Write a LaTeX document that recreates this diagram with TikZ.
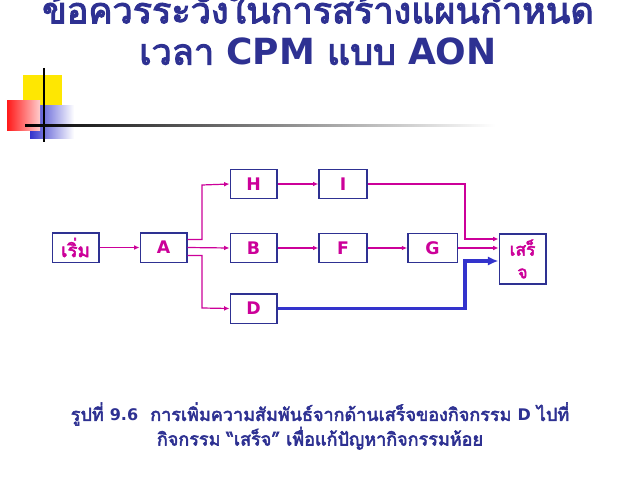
\documentclass[tikz,border=0pt]{standalone}
\usepackage{fontspec}
\setmainfont{Loma}[Script=Thai,AutoFakeBold=3]
\newfontfamily\lat{DejaVu Sans}
\usetikzlibrary{arrows.meta}
\definecolor{navy}{HTML}{2E3192}
\definecolor{mag}{HTML}{CC0099}
\definecolor{blu}{HTML}{3333CC}
\tikzset{
 box/.style={draw=navy,line width=1pt,fill=white,text=mag,font=\bfseries\fontsize{13}{15}\selectfont,inner sep=0pt,minimum height=22pt},
 link/.style={draw=mag,line width=0.9pt,-{Latex[length=4pt,width=3.5pt]}},
 bluelink/.style={draw=blu,line width=2.6pt,-{Latex[length=8pt,width=7pt]}}
}
\begin{document}
\begin{tikzpicture}[x=0.75pt,y=-0.75pt]
\useasboundingbox (0,0) rectangle (638,478);
\fill[white] (0,0) rectangle (638,478);
% decoration
\fill[yellow!90!orange] (23,75) rectangle (62,112);
\shade[left color=blu,right color=white] (30,105) rectangle (74,138);
\shade[left color=red!90,right color=red!20] (7,100) rectangle (40,130);
\draw[line width=1pt] (44,68) -- (44,142);
\shade[left color=black,right color=white] (25,124) rectangle (495,126.5);
% title
\node[text=navy,font=\bfseries\fontsize{27}{31}\selectfont,align=center] (title) at (318,28) {ข้อควรระวังในการสร้างแผนกำหนด\\เวลา {\lat CPM} แบบ {\lat AON}};
% nodes
\node[box,minimum width=35pt,font=\bfseries\fontsize{14}{15}\selectfont] (s) at (75.5,247.5) {เริ่ม};
\node[box,minimum width=35pt] (a) at (163.5,247.5) {\lat A};
\node[box,minimum width=35pt] (h) at (253.5,184) {\lat H};
\node[box,minimum width=36pt] (i) at (343,184) {\lat I};
\node[box,minimum width=35pt] (b) at (253.5,248) {\lat B};
\node[box,minimum width=36pt] (f) at (343,248) {\lat F};
\node[box,minimum width=37pt] (g) at (432.5,248) {\lat G};
\node[box,minimum width=35pt] (d) at (253.5,308.5) {\lat D};
\node[box,minimum width=35pt,minimum height=37.5pt,align=center,font=\bfseries\fontsize{13}{17}\selectfont] (e) at (522.5,259) {เสร็\\จ};
% connectors
\draw[link] (s.east) -- (a.west);
\draw[link] (a.east) -- (b.west);
\draw[link] ([yshift=6pt]a.east) -| (202,185) -- (h.west);
\draw[link] ([yshift=-6pt]a.east) -| (202,308) -- (d.west);
\draw[link] (h.east) -- (i.west);
\draw[link] (b.east) -- (f.west);
\draw[link] (f.east) -- (g.west);
\draw[link] (i.east) -| (465,239) -- (e.west |- 0,239);
\draw[link] (g.east) -- (e.west |- g.east);
\draw[bluelink] (d.east) -| (465,261) -- (e.west |- 0,261);
% caption
\node[text=navy,font=\bfseries\fontsize{13.5}{16}\selectfont,align=center] (cap) at (320,426) {รูปที่ {\lat\fontsize{12}{16}\selectfont 9.6}\ \ การเพิ่มความสัมพันธ์จากด้านเสร็จของกิจกรรม {\lat\fontsize{12}{16}\selectfont D} ไปที่\\กิจกรรม “เสร็จ” เพื่อแก้ปัญหากิจกรรมห้อย};
\end{tikzpicture}
\end{document}
